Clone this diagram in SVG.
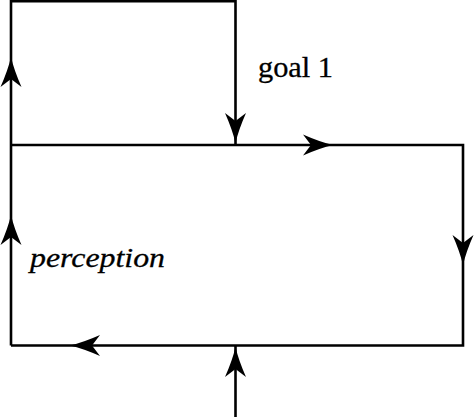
<svg xmlns="http://www.w3.org/2000/svg" width="474" height="417" viewBox="0 0 474 417">
  <style>
    .ln { fill: none; stroke: #000; stroke-width: 2.6; stroke-linecap: butt; stroke-linejoin: miter; }
    .ah { fill: #000; stroke: none; }
    .lbl { font-family: "Liberation Serif", "Times New Roman", serif; fill: #000; stroke: #000; stroke-width: 0.3; }
  </style>
  <defs>
    <path id="ah" class="ah" d="M0,0 Q-13,3 -30,10.5 L-22,0 L-30,-10.5 Q-13,-3 0,0 Z"/>
  </defs>
  <g id="connectors">
    <path class="ln" d="M11,345.5 L11,1.3 L235.5,1.3 L235.5,145"/>
    <path class="ln" d="M11,145 L463,145 L463,345.5 L11,345.5"/>
    <path class="ln" d="M235.5,417 L235.5,345.5"/>
    <use href="#ah" transform="translate(11,57) rotate(-90)"/>
    <use href="#ah" transform="translate(235.5,143) rotate(90)"/>
    <use href="#ah" transform="translate(333,145)"/>
    <use href="#ah" transform="translate(463,265) rotate(90)"/>
    <use href="#ah" transform="translate(11,215) rotate(-90)"/>
    <use href="#ah" transform="translate(70,345.5) rotate(180)"/>
    <use href="#ah" transform="translate(235.5,347) rotate(-90)"/>
  </g>
  <g id="goal1">
    <text class="lbl" x="258" y="77" font-size="29" textLength="75" lengthAdjust="spacingAndGlyphs">goal 1</text>
  </g>
  <g id="perception">
    <text class="lbl" x="30" y="267" font-size="28" font-style="italic" textLength="135" lengthAdjust="spacingAndGlyphs">perception</text>
  </g>
</svg>
